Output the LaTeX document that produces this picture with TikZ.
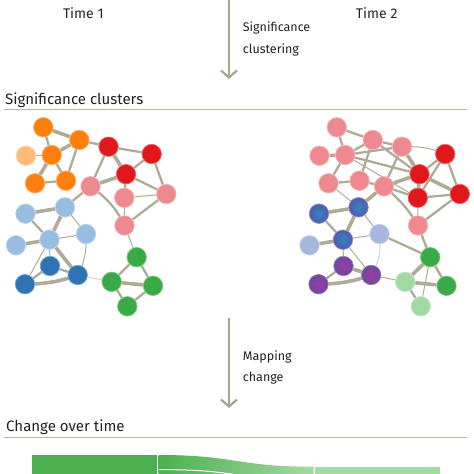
\documentclass[tikz,border=0pt]{standalone}
\usepackage{fontspec}
\setmainfont{Fira Sans}
\usetikzlibrary{arrows.meta,backgrounds}
\definecolor{edgec}{HTML}{AEAB96}
\definecolor{edgelt}{HTML}{D4D3C8}
\definecolor{rulec}{HTML}{B8B5A3}
\definecolor{arrc}{HTML}{A9A690}
\definecolor{txt}{HTML}{222222}
\definecolor{orA}{HTML}{FF7F0E}
\definecolor{orL}{HTML}{FFBB78}
\definecolor{rdA}{HTML}{E0181C}
\definecolor{pkA}{HTML}{EE8A8F}
\definecolor{lbA}{HTML}{97BDE0}
\definecolor{bA}{HTML}{2E73B3}
\definecolor{gA}{HTML}{3AAA46}
\definecolor{lgA}{HTML}{A2D9A3}
\definecolor{dbO}{HTML}{5559A8}
\definecolor{dbI}{HTML}{2C86C8}
\definecolor{puO}{HTML}{6A4B9E}
\definecolor{puI}{HTML}{A03AA3}
\definecolor{lbB}{HTML}{A5B7DD}
\definecolor{flowA}{HTML}{4CAF50}
\definecolor{flowB}{HTML}{A6D9A4}
\tikzset{
  nd/.style={circle,minimum size=19.5pt,inner sep=0pt,line width=0.7pt},
  ndor/.style={nd,fill=orA,draw=orA!65!white},
  ndorl/.style={nd,fill=orL,draw=orL!65!white},
  ndrd/.style={nd,fill=rdA,draw=rdA!65!white},
  ndpk/.style={nd,fill=pkA,draw=pkA!65!white},
  ndlb/.style={nd,fill=lbA,draw=lbA!65!white},
  ndb/.style={nd,fill=bA,draw=bA!65!white},
  ndg/.style={nd,fill=gA,draw=gA!65!white},
  ndlg/.style={nd,fill=lgA,draw=lgA!65!white},
  nddb/.style={nd,inner color=dbI,outer color=dbO,draw=dbO!70!white},
  ndpu/.style={nd,inner color=puI,outer color=puO,draw=puO!70!white},
  ndlbb/.style={nd,fill=lbB,draw=lbB!65!white},
  thinE/.style={draw=edgec,line width=1pt},
  medE/.style={draw=edgec,line width=2.3pt},
  thickE/.style={draw=edgec,line width=3.6pt},
  faintE/.style={draw=edgelt,line width=1pt},
  arrowline/.style={draw=arrc,line width=2.3pt,-{Straight Barb[length=7pt,width=16pt]}},
  headtxt/.style={font=\fontsize{15}{18}\selectfont,text=txt,inner sep=0pt,anchor=base west},
  timetxt/.style={font=\fontsize{14}{17}\selectfont,text=txt,inner sep=0pt,anchor=base},
  smalltxt/.style={font=\fontsize{12.5}{15}\selectfont,text=txt,inner sep=0pt,anchor=base west},
  rulel/.style={draw=rulec,line width=0.9pt}
}
\begin{document}
\begin{tikzpicture}[x=1pt,y=-1pt]
\useasboundingbox (0,0) rectangle (474,474);
\clip (0,0) rectangle (474,474);

% ---- texts and arrows ----
\node[timetxt] (t1) at (83.3,18.3) {Time 1};
\node[timetxt] (t2) at (376.7,18.3) {Time 2};
\coordinate (a1s) at (229,-1);
\coordinate (a1e) at (229,79);
\draw[arrowline] (a1s) -- (a1e);
\node[smalltxt] (sig1) at (242.7,31.7) {Significance};
\node[smalltxt] (sig2) at (242.7,53.3) {clustering};
\node[headtxt] (h1) at (5,104) {Significance clusters};
\coordinate (r1s) at (4,109);
\coordinate (r1e) at (467,109);
\draw[rulel] (r1s) -- (r1e);

\coordinate (a2s) at (229,318);
\coordinate (a2e) at (229,408);
\draw[arrowline] (a2s) -- (a2e);
\node[smalltxt] (map1) at (242.7,360) {Mapping};
\node[smalltxt] (map2) at (242.7,381.7) {change};
\node[headtxt] (h2) at (6,431.7) {Change over time};
\coordinate (r2s) at (4,437.3);
\coordinate (r2e) at (467,437.3);
\draw[rulel] (r2s) -- (r2e);

% ---- flow at bottom ----
\fill[flowA] (31.7,455) rectangle (157.3,480);
\shade[left color=flowA,right color=flowB] (158.6,455) .. controls (236,455) and (236,466.7) .. (313.6,466.7) -- (313.6,480) -- (158.6,480) -- cycle;
\fill[flowB] (315,466.7) rectangle (440,480);
\draw[white,line width=1pt] (158.8,469.6) .. controls (200,469.6) and (215,471.5) .. (245,476);

% ---- left graph ----
\begin{scope}[name prefix=L]
\node[ndor] (o1) at (43.3,127.3) {};
\node[ndor] (o2) at (79.3,140) {};
\node[ndorl] (lo) at (26,155.7) {};
\node[ndor] (o3) at (51.7,155) {};
\node[ndor] (o4) at (35,183.3) {};
\node[ndor] (o5) at (66,180.7) {};
\node[ndrd] (r1) at (108.5,146.7) {};
\node[ndrd] (r2) at (151.7,154) {};
\node[ndrd] (r3) at (126,174.2) {};
\node[ndpk] (p1) at (90.5,186.3) {};
\node[ndpk] (p2) at (124.3,197.8) {};
\node[ndpk] (p3) at (166.3,194) {};
\node[ndpk] (p4) at (124.5,225.5) {};
\node[ndlb] (lb1) at (65,207.3) {};
\node[ndlb] (lb2) at (25.5,213.7) {};
\node[ndlb] (lb3) at (49.5,239.7) {};
\node[ndlb] (lb4) at (86,234) {};
\node[ndlb] (lb5) at (16,245.3) {};
\node[ndb] (b1) at (50,266) {};
\node[ndb] (b2) at (25,284.2) {};
\node[ndb] (b3) at (77.7,275) {};
\node[ndg] (g1) at (136.7,257.2) {};
\node[ndg] (g2) at (111.7,281.8) {};
\node[ndg] (g3) at (153,285.8) {};
\node[ndg] (g4) at (127.3,306.3) {};
\begin{pgfonlayer}{background}
\draw[thickE] (o1) -- (o2);
\draw[medE] (o1) -- (o3);
\draw[thinE] (lo) -- (o3);
\draw[thickE] (o3) -- (o2);
\draw[thickE] (o3) -- (o4);
\draw[medE] (o3) -- (o5);
\draw[medE] (o4) -- (o5);
\draw[medE] (o2) -- (o5);
\draw[medE] (o2) -- (r1);
\draw[medE] (r1) -- (r2);
\draw[thickE] (r1) -- (r3);
\draw[medE] (r1) -- (p1);
\draw[medE] (r2) -- (r3);
\draw[medE] (r2) -- (p3);
\draw[thickE] (r3) -- (p1);
\draw[medE] (r3) -- (p2);
\draw[medE] (r3) -- (p3);
\draw[thinE] (p2) -- (p3);
\draw[thinE] (p2) -- (p4);
\draw[medE] (p1) to[bend left=12] (p4);
\draw[medE] (p3) -- (p4);
\draw[thinE] (p4) -- (g1);
\draw[medE] (p1) -- (lb1);
\draw[thickE] (lb1) -- (lb2);
\draw[thickE] (lb1) -- (lb3);
\draw[medE] (lb2) -- (lb3);
\draw[thinE] (lb1) -- (lb4);
\draw[thinE] (lb3) -- (lb4);
\draw[thickE] (lb3) -- (lb5);
\draw[thinE] (lb3) -- (b1);
\draw[thinE] (lb3) -- (b2);
\draw[thickE] (lb3) -- (b3);
\draw[thinE] (lb4) to[bend left=12] (b3);
\draw[medE] (b1) -- (b2);
\draw[medE] (b1) -- (b3);
\draw[thickE] (b2) to[bend right=8] (b3);
\draw[faintE] (b3) -- (g2);
\draw[medE] (g1) -- (g2);
\draw[medE] (g1) -- (g3);
\draw[thickE] (g2) -- (g3);
\draw[medE] (g2) -- (g4);
\draw[medE] (g3) -- (g4);
\end{pgfonlayer}
\end{scope}

% ---- right graph ----
\begin{scope}[xshift=293.5pt,name prefix=R]
\node[ndpk] (o1) at (43.3,127.3) {};
\node[ndpk] (o2) at (79.3,140) {};
\node[ndpk] (lo) at (26,155.7) {};
\node[ndpk] (o3) at (51.7,155) {};
\node[ndpk] (o4) at (35,183.3) {};
\node[ndpk] (o5) at (66,180.7) {};
\node[ndpk] (r1) at (108.5,146.7) {};
\node[ndrd] (r2) at (151.7,154) {};
\node[ndrd] (r3) at (126,174.2) {};
\node[ndpk] (p1) at (90.5,186.3) {};
\node[ndrd] (p2) at (124.3,197.8) {};
\node[ndrd] (p3) at (166.3,194) {};
\node[ndpk] (p4) at (124.5,225.5) {};
\node[nddb] (lb1) at (65,207.3) {};
\node[nddb] (lb2) at (25.5,213.7) {};
\node[nddb] (lb3) at (49.5,239.7) {};
\node[ndlbb] (lb4) at (86,234) {};
\node[ndlbb] (lb5) at (16,245.3) {};
\node[ndpu] (b1) at (50,266) {};
\node[ndpu] (b2) at (25,284.2) {};
\node[ndpu] (b3) at (77.7,275) {};
\node[ndg] (g1) at (136.7,257.2) {};
\node[ndlg] (g2) at (111.7,281.8) {};
\node[ndg] (g3) at (153,285.8) {};
\node[ndlg] (g4) at (127.3,306.3) {};
\begin{pgfonlayer}{background}
\draw[medE] (o1) -- (o2);
\draw[medE] (o1) -- (o3);
\draw[thickE] (lo) -- (o3);
\draw[medE] (o3) -- (o2);
\draw[medE] (o3) -- (r1);
\draw[medE] (o3) -- (r3);
\draw[thinE] (o3) -- (p2);
\draw[medE] (o2) -- (r1);
\draw[medE] (o2) -- (r3);
\draw[medE] (o2) -- (o5);
\draw[medE] (o3) -- (o4);
\draw[medE] (o4) -- (o5);
\draw[medE] (o5) -- (p1);
\draw[thinE] (o4) -- (lb1);
\draw[medE] (r1) -- (p1);
\draw[thinE] (r1) to[bend left=10] (r2);
\draw[thickE] (r1) -- (r3);
\draw[medE] (r2) -- (r3);
\draw[medE] (r2) -- (p3);
\draw[medE] (r2) -- (p2);
\draw[thickE] (r3) -- (p3);
\draw[thickE] (r3) -- (p2);
\draw[thickE] (r3) -- (p1);
\draw[medE] (p2) -- (p3);
\draw[medE] (p1) -- (p2);
\draw[medE] (p3) -- (p4);
\draw[thinE] (p2) -- (p4);
\draw[medE] (p1) to[bend left=8] (p4);
\draw[medE] (p4) -- (g1);
\draw[thickE] (p1) -- (lb1);
\draw[thickE] (lb1) -- (lb2);
\draw[thickE] (lb1) -- (lb3);
\draw[medE] (lb2) -- (lb3);
\draw[thinE] (lb1) -- (lb4);
\draw[thinE] (lb3) -- (lb4);
\draw[thickE] (lb3) -- (lb5);
\draw[thinE] (lb3) -- (b1);
\draw[thinE] (lb3) -- (b3);
\draw[faintE] (lb4) to[bend left=15] (b3);
\draw[medE] (lb4) -- (g1);
\draw[medE] (b1) -- (b2);
\draw[thickE] (b1) -- (b3);
\draw[thickE] (b2) to[bend right=8] (b3);
\draw[thinE] (b3) -- (g2);
\draw[thickE] (g1) -- (g2);
\draw[medE] (g1) -- (g3);
\draw[thinE] (g1) -- (g4);
\draw[thickE] (g2) -- (g3);
\draw[medE] (g2) -- (g4);
\end{pgfonlayer}
\end{scope}
\end{tikzpicture}
\end{document}
